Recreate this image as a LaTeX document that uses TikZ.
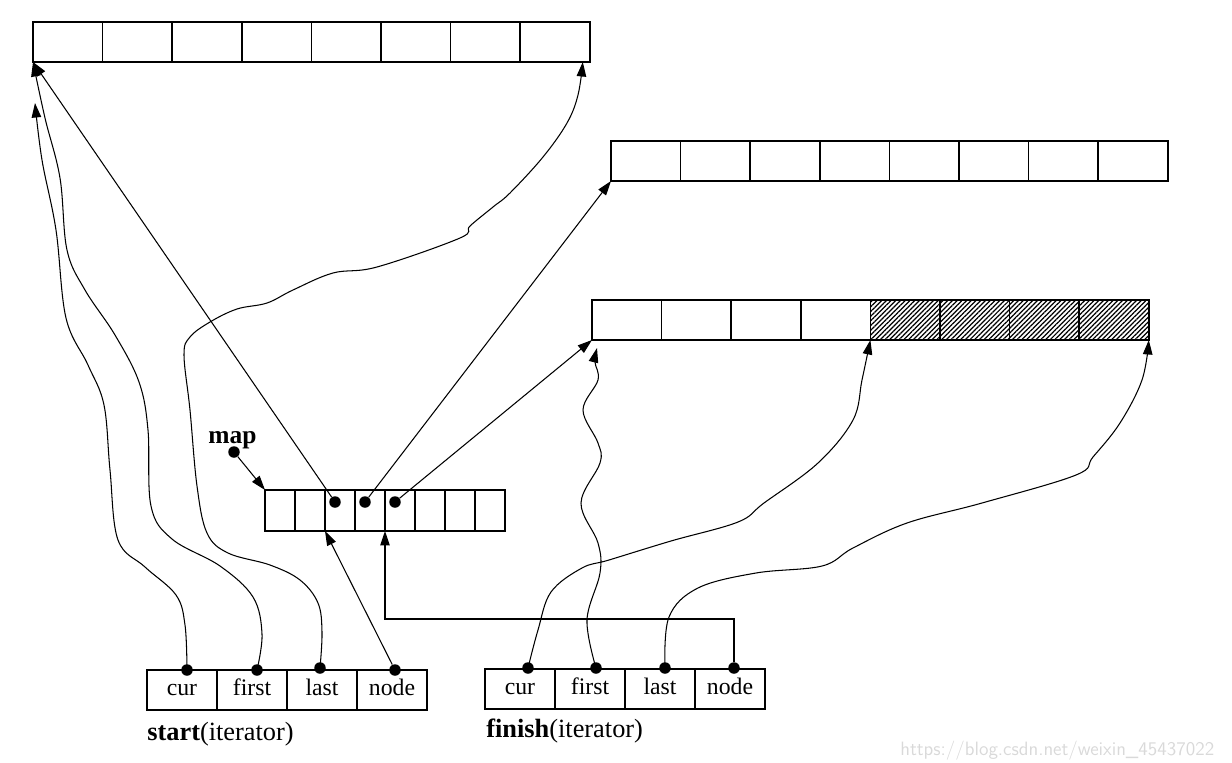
\documentclass[tikz,border=0pt]{standalone}
\usepackage{fontspec}
\setmainfont{Liberation Serif}
\usepackage{tikz}
\usetikzlibrary{arrows.meta,patterns.meta}
\tikzset{
  cell/.style={draw, line width=0.9pt, inner sep=0pt, outer sep=0pt, anchor=north west,
    minimum height=0.8cm, text height=1.6ex, text depth=0.3ex, font=\fontsize{13.5}{16}\selectfont},
  hatch/.style={fill=black!40, pattern={Lines[angle=45,distance=1.9pt,line width=0.7pt]}},
  ptr/.style={-{Triangle[length=0.29cm,width=0.19cm]}, line width=0.6pt},
  dot/.style={circle, fill, inner sep=0pt, minimum size=0.23cm},
  lbl/.style={anchor=base west, inner sep=0pt, font=\fontsize{15}{18}\selectfont}
}
% row of 8 buffer cells: name, left x, top y
\newcommand\bufrow[3]{\foreach \i in {0,...,7} \node[cell, minimum width=1.392cm] (#1\i) at (#2+69.6*\i,#3) {};}

\begin{document}
\begin{tikzpicture}[x=0.02cm,y=-0.02cm]
\useasboundingbox (0,0) rectangle (1232,762);
\bufrow{a}{33}{22}
\bufrow{b}{611}{141}
\bufrow{c}{592}{300}
\foreach \i in {4,...,7} \node[cell, hatch, minimum width=1.392cm] (h\i) at (c\i.north west) {};
% map
\foreach \i in {0,...,7} \node[cell, minimum width=0.6cm, minimum height=0.82cm] (m\i) at (265+30*\i,490) {};
\node[lbl, font=\bfseries\fontsize{14.5}{17}\selectfont] (maplbl) at (208,443) {map};
\node[dot] (mapdot) at (234,452) {};
\node[dot] (m2dot) at (335,502) {};
\node[dot] (m3dot) at (365,502) {};
\node[dot] (m4dot) at (395,502) {};
% iterators
\foreach \t [count=\i from 0] in {cur,first,last,node} {
  \node[cell, minimum width=1.4cm] (s\i) at (147+70*\i,670) {\t};
  \node[cell, minimum width=1.4cm] (f\i) at (485+70*\i,669) {\t};
}
\node[lbl] (slbl) at (147,740) {\textbf{start}(iterator)};
\node[lbl] (flbl) at (486,737) {\textbf{finish}(iterator)};
\node[dot] (sc) at (187,670) {};
\node[dot] (sf) at (257,670) {};
\node[dot] (sl) at (320,668) {};
\node[dot] (sn) at (395,670) {};
\node[dot] (fc) at (528,668) {};
\node[dot] (ff) at (596,668) {};
\node[dot] (fl) at (665,668) {};
\node[dot] (fn) at (734,668) {};
\coordinate (curtip) at (35,103);
\coordinate (firsttip) at (597,348);
% map pointers
\draw[ptr] (mapdot) -- (m0.north west);
\draw[ptr] (m2dot) -- (a0.south west);
\draw[ptr] (m3dot) -- (b0.south west);
\draw[ptr] (m4dot) -- (c0.south west);
\draw[ptr] (sn) -- (m2.south west);
\draw[ptr] (fn) -- ++(0,-49) -| (m4.south west);
% start
\draw[ptr] plot[smooth, tension=0.6] coordinates {(sc) (185,625) (176,595) (145,567) (118,540) (110,470) (104,405) (88,365) (66,318) (56,230) (42,160) (curtip)};
\draw[ptr] plot[smooth, tension=0.6] coordinates {(sf) (262,634) (253,597) (220,566) (172,539) (151,506) (148,430) (139,382) (115,335) (85,290) (67,250) (60,178) (45,118) (a0.south west)};
\draw[ptr] plot[smooth, tension=0.6] coordinates {(sl) (322,632) (318,603) (300,580) (270,565) (228,553) (207,533) (197,486) (190,410) (184,355) (190,337) (210,322) (237,309) (267,303) (293,290) (333,273) (377,267) (460,238) (470,226) (493,207) (510,193) (543,157) (567,123) (578,95) ([xshift=-0.14cm]a7.south east)};
% finish
\draw[ptr] plot[smooth, tension=0.6] coordinates {(fc) (538,630) (551,592) (582,568) (609,560) (671,541) (738,522) (764,503) (818,463) (853,420) (862,380) (c4.south west)};
\draw[ptr] plot[smooth, tension=0.6] coordinates {(ff) (587,620) (600,573) (598,543) (581,503) (600,463) (598,443) (583,410) (598,380) (595,362) (firsttip)};
\draw[ptr] plot[smooth, tension=0.6] coordinates {(fl) (669,617) (698,588) (756,573) (822,566) (853,548) (907,523) (982,503) (1076,475) (1093,457) (1120,423) (1142,380) (c7.south east)};
\node[anchor=base west, inner sep=0pt, text=black!15, font=\fontfamily{lmss}\fontsize{11}{13}\selectfont] (wm) at (900,755) {https://blog.csdn.net/weixin\_45437022};
\end{tikzpicture}
\end{document}
